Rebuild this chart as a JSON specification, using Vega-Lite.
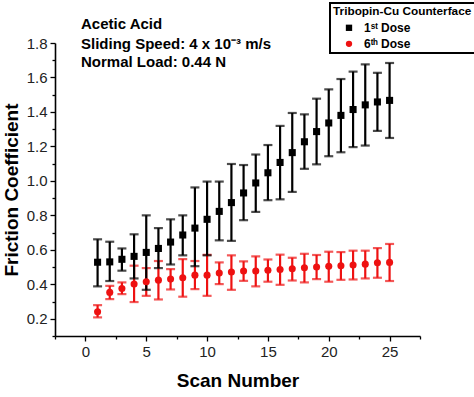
{
  "$schema": "https://vega.github.io/schema/vega-lite/v6.json",
  "width": 365,
  "height": 293,
  "autosize": "none",
  "padding": {"left": 55, "top": 43, "right": 54, "bottom": 61},
  "background": "white",
  "title": {
    "text": "Acetic Acid",
    "subtitle": ["Sliding Speed: 4 x 10⁻³ m/s", "Normal Load: 0.44 N"],
    "anchor": "start",
    "frame": "group",
    "orient": "top",
    "dx": 26,
    "offset": -68,
    "font": "Liberation Sans",
    "fontSize": 15,
    "fontWeight": "bold",
    "color": "black",
    "subtitleFont": "Liberation Sans",
    "subtitleFontSize": 15,
    "subtitleFontWeight": "bold",
    "subtitleColor": "black",
    "subtitlePadding": 5,
    "subtitleLineHeight": 18.5
  },
  "datasets": {
    "d": [
      {"series": "6th", "scan": 1, "mean": 0.240, "lo": 0.208, "hi": 0.279},
      {"series": "6th", "scan": 2, "mean": 0.353, "lo": 0.314, "hi": 0.391},
      {"series": "6th", "scan": 3, "mean": 0.376, "lo": 0.343, "hi": 0.411},
      {"series": "6th", "scan": 4, "mean": 0.401, "lo": 0.297, "hi": 0.508},
      {"series": "6th", "scan": 5, "mean": 0.415, "lo": 0.333, "hi": 0.494},
      {"series": "6th", "scan": 6, "mean": 0.424, "lo": 0.312, "hi": 0.535},
      {"series": "6th", "scan": 7, "mean": 0.430, "lo": 0.370, "hi": 0.488},
      {"series": "6th", "scan": 8, "mean": 0.438, "lo": 0.328, "hi": 0.546},
      {"series": "6th", "scan": 9, "mean": 0.453, "lo": 0.372, "hi": 0.535},
      {"series": "6th", "scan": 10, "mean": 0.453, "lo": 0.333, "hi": 0.571},
      {"series": "6th", "scan": 11, "mean": 0.465, "lo": 0.401, "hi": 0.527},
      {"series": "6th", "scan": 12, "mean": 0.471, "lo": 0.368, "hi": 0.568},
      {"series": "6th", "scan": 13, "mean": 0.477, "lo": 0.420, "hi": 0.533},
      {"series": "6th", "scan": 14, "mean": 0.477, "lo": 0.388, "hi": 0.562},
      {"series": "6th", "scan": 15, "mean": 0.482, "lo": 0.415, "hi": 0.544},
      {"series": "6th", "scan": 16, "mean": 0.486, "lo": 0.397, "hi": 0.572},
      {"series": "6th", "scan": 17, "mean": 0.490, "lo": 0.422, "hi": 0.554},
      {"series": "6th", "scan": 18, "mean": 0.496, "lo": 0.411, "hi": 0.577},
      {"series": "6th", "scan": 19, "mean": 0.500, "lo": 0.430, "hi": 0.570},
      {"series": "6th", "scan": 20, "mean": 0.504, "lo": 0.415, "hi": 0.589},
      {"series": "6th", "scan": 21, "mean": 0.508, "lo": 0.426, "hi": 0.587},
      {"series": "6th", "scan": 22, "mean": 0.512, "lo": 0.428, "hi": 0.595},
      {"series": "6th", "scan": 23, "mean": 0.517, "lo": 0.434, "hi": 0.595},
      {"series": "6th", "scan": 24, "mean": 0.525, "lo": 0.438, "hi": 0.610},
      {"series": "6th", "scan": 25, "mean": 0.527, "lo": 0.419, "hi": 0.634},
      {"series": "1st", "scan": 1, "mean": 0.528, "lo": 0.388, "hi": 0.661},
      {"series": "1st", "scan": 2, "mean": 0.530, "lo": 0.419, "hi": 0.647},
      {"series": "1st", "scan": 3, "mean": 0.545, "lo": 0.479, "hi": 0.608},
      {"series": "1st", "scan": 4, "mean": 0.562, "lo": 0.434, "hi": 0.690},
      {"series": "1st", "scan": 5, "mean": 0.585, "lo": 0.368, "hi": 0.800},
      {"series": "1st", "scan": 6, "mean": 0.608, "lo": 0.494, "hi": 0.726},
      {"series": "1st", "scan": 7, "mean": 0.645, "lo": 0.515, "hi": 0.777},
      {"series": "1st", "scan": 8, "mean": 0.686, "lo": 0.568, "hi": 0.800},
      {"series": "1st", "scan": 9, "mean": 0.726, "lo": 0.505, "hi": 0.962},
      {"series": "1st", "scan": 10, "mean": 0.777, "lo": 0.568, "hi": 0.996},
      {"series": "1st", "scan": 11, "mean": 0.823, "lo": 0.655, "hi": 0.996},
      {"series": "1st", "scan": 12, "mean": 0.874, "lo": 0.652, "hi": 1.098},
      {"series": "1st", "scan": 13, "mean": 0.930, "lo": 0.772, "hi": 1.092},
      {"series": "1st", "scan": 14, "mean": 0.988, "lo": 0.820, "hi": 1.153},
      {"series": "1st", "scan": 15, "mean": 1.047, "lo": 0.888, "hi": 1.208},
      {"series": "1st", "scan": 16, "mean": 1.107, "lo": 0.893, "hi": 1.319},
      {"series": "1st", "scan": 17, "mean": 1.164, "lo": 0.936, "hi": 1.394},
      {"series": "1st", "scan": 18, "mean": 1.227, "lo": 1.070, "hi": 1.386},
      {"series": "1st", "scan": 19, "mean": 1.286, "lo": 1.096, "hi": 1.477},
      {"series": "1st", "scan": 20, "mean": 1.336, "lo": 1.143, "hi": 1.531},
      {"series": "1st", "scan": 21, "mean": 1.380, "lo": 1.166, "hi": 1.591},
      {"series": "1st", "scan": 22, "mean": 1.414, "lo": 1.196, "hi": 1.634},
      {"series": "1st", "scan": 23, "mean": 1.441, "lo": 1.205, "hi": 1.676},
      {"series": "1st", "scan": 24, "mean": 1.458, "lo": 1.290, "hi": 1.627},
      {"series": "1st", "scan": 25, "mean": 1.467, "lo": 1.249, "hi": 1.684}
    ]
  },
  "data": {"name": "d"},
  "layer": [
    {
      "mark": {"type": "point", "opacity": 0},
      "encoding": {
        "x": {
          "field": "scan", "type": "quantitative",
          "scale": {"domain": [-2.5, 27.5], "nice": false, "zero": false},
          "axis": {"orient": "bottom", "values": [-2.5, 2.5, 7.5, 12.5, 17.5, 22.5, 27.5], "labels": false, "domain": false, "grid": false, "tickSize": 3, "tickWidth": 1.3, "tickColor": "black", "title": null}
        },
        "y": {
          "field": "mean", "type": "quantitative",
          "scale": {"domain": [0.1, 1.8], "nice": false, "zero": false},
          "axis": {"orient": "left", "values": [0.1, 0.3, 0.5, 0.7, 0.9, 1.1, 1.3, 1.5, 1.7], "labels": false, "domain": false, "grid": false, "tickSize": 3, "tickWidth": 1.3, "tickColor": "black", "title": null}
        }
      }
    },
    {
      "transform": [{"filter": "datum.series === '6th'"}],
      "mark": {"type": "errorbar", "color": "#ee1111", "thickness": 2.2, "ticks": {"size": 9, "thickness": 2.2, "color": "#ee1111"}},
      "encoding": {
        "x": {"field": "scan", "type": "quantitative", "axis": null},
        "y": {"field": "lo", "type": "quantitative", "axis": null},
        "y2": {"field": "hi"}
      }
    },
    {
      "transform": [{"filter": "datum.series === '1st'"}],
      "mark": {"type": "errorbar", "color": "black", "thickness": 2.2, "ticks": {"size": 9, "thickness": 2.2, "color": "black"}},
      "encoding": {
        "x": {"field": "scan", "type": "quantitative", "axis": null},
        "y": {"field": "lo", "type": "quantitative", "axis": null},
        "y2": {"field": "hi"}
      }
    },
    {
      "mark": {"type": "point", "filled": true, "opacity": 1, "size": 50},
      "encoding": {
        "x": {
          "field": "scan", "type": "quantitative",
          "axis": {"orient": "bottom", "values": [0, 5, 10, 15, 20, 25], "grid": false, "domainColor": "black", "domainWidth": 1.6, "tickColor": "black", "tickWidth": 1.3, "tickSize": 5, "labelFontSize": 15, "labelFont": "Liberation Sans", "labelColor": "#222", "labelPadding": 3, "title": "Scan Number", "titleFont": "Liberation Sans", "titleFontSize": 19, "titleFontWeight": "bold", "titleColor": "black", "titlePadding": 12}
        },
        "y": {
          "field": "mean", "type": "quantitative",
          "axis": {"orient": "left", "values": [0.2, 0.4, 0.6, 0.8, 1.0, 1.2, 1.4, 1.6, 1.8], "format": ".1f", "grid": false, "domainColor": "black", "domainWidth": 1.6, "tickColor": "black", "tickWidth": 1.3, "tickSize": 5, "labelFontSize": 15, "labelFont": "Liberation Sans", "labelColor": "#222", "labelPadding": 3, "title": "Friction Coefficient", "titleFont": "Liberation Sans", "titleFontSize": 19, "titleFontWeight": "bold", "titleColor": "black", "titlePadding": 5}
        },
        "color": {
          "field": "series", "type": "nominal",
          "scale": {"domain": ["1st", "6th"], "range": ["black", "#ee1111"]},
          "legend": {
            "title": "Tribopin-Cu Counterface",
            "orient": "none", "legendX": 275, "legendY": -40,
            "labelExpr": "datum.label === '1st' ? '1ˢᵗ Dose' : '6ᵗʰ Dose'",
            "titleFont": "Liberation Sans", "titleFontSize": 11.8, "titleFontWeight": "bold", "titleColor": "black", "titlePadding": 4,
            "labelFont": "Liberation Sans", "labelFontSize": 12, "labelFontWeight": "bold", "labelColor": "black",
            "symbolSize": 40, "symbolOffset": 10, "labelOffset": 9, "rowPadding": 4,
            "strokeColor": "black", "padding": 3, "fillColor": "white"
          }
        },
        "shape": {
          "field": "series", "type": "nominal",
          "scale": {"domain": ["1st", "6th"], "range": ["square", "circle"]},
          "legend": {
            "title": "Tribopin-Cu Counterface",
            "orient": "none", "legendX": 275, "legendY": -40,
            "labelExpr": "datum.label === '1st' ? '1ˢᵗ Dose' : '6ᵗʰ Dose'",
            "titleFont": "Liberation Sans", "titleFontSize": 11.8, "titleFontWeight": "bold", "titleColor": "black", "titlePadding": 4,
            "labelFont": "Liberation Sans", "labelFontSize": 12, "labelFontWeight": "bold", "labelColor": "black",
            "symbolSize": 40, "symbolOffset": 10, "labelOffset": 9, "rowPadding": 4,
            "strokeColor": "black", "padding": 3, "fillColor": "white"
          }
        }
      }
    }
  ],
  "resolve": {"axis": {"x": "independent", "y": "independent"}},
  "config": {
    "view": {"stroke": null},
    "legend": {"strokeWidth": 2}
  }
}
